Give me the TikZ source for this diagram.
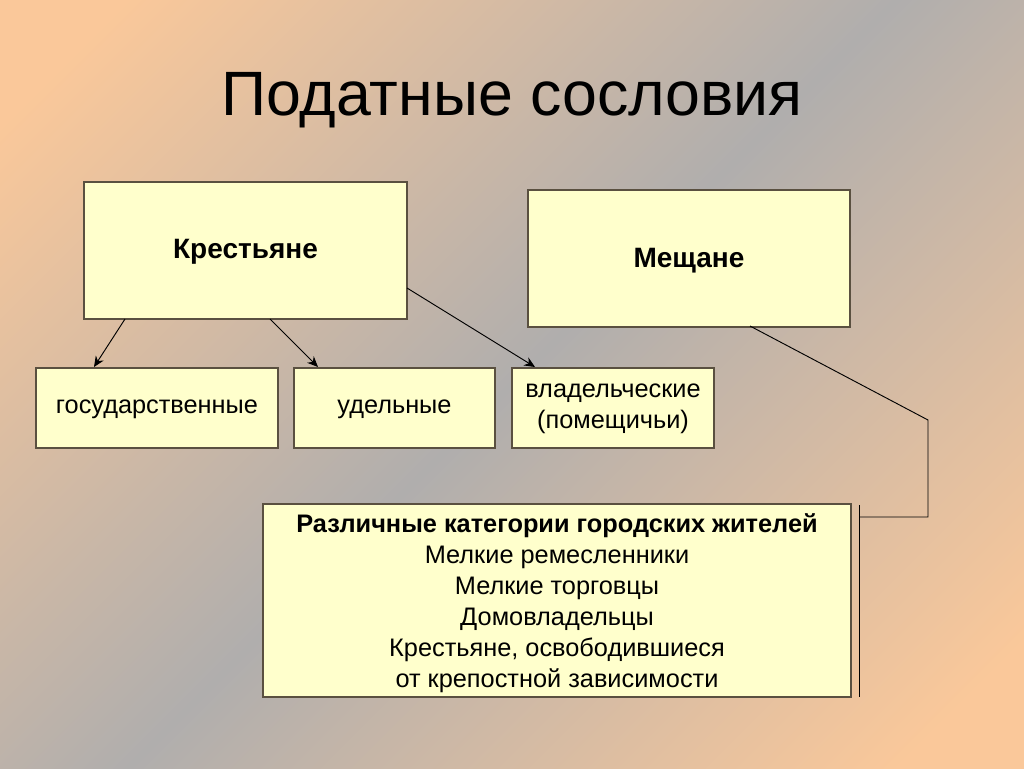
\documentclass[tikz,border=0pt]{standalone}
\usepackage{fontspec}
\setmainfont{Liberation Sans}
\usetikzlibrary{arrows.meta}
\definecolor{peach}{HTML}{FAC89A}
\definecolor{midgray}{HTML}{B0AEAD}
\definecolor{boxfill}{HTML}{FFFFCC}
\definecolor{boxline}{HTML}{5A5040}
\tikzset{
  box/.style={draw=boxline, line width=0.9pt, fill=boxfill, inner sep=0pt},
  lbl/.style={font=\fontsize{19}{23}\selectfont, align=center},
  blbl/.style={font=\fontsize{21}{25}\selectfont\bfseries, align=center},
  conn/.style={draw=black, line width=0.7pt},
  arr/.style={conn, -{Stealth[length=8pt,width=7pt]}}
}
\begin{document}
\begin{tikzpicture}[x=0.75pt,y=-0.75pt]
\useasboundingbox (0,0) rectangle (1024,768);
\shade[top color=peach, bottom color=peach, middle color=midgray, shading angle=45] (-100,-100) rectangle (1124,868);
\node[font=\fontsize{47}{55}\selectfont] (title) at (512,100) {Податные сословия};
% boxes
\draw[box] (84,182) rectangle (407,319);
\node[blbl] (kr) at (245.5,252) {Крестьяне};
\coordinate (krA) at (125,319);
\coordinate (krB) at (270,319);
\coordinate (krC) at (407,288);
\draw[box] (528,190) rectangle (850,327);
\node[blbl] (msh) at (689,261) {Мещане};
\coordinate (mshA) at (750,326);
\draw[box] (36,368) rectangle (278,448);
\node[lbl] (gos) at (157,409) {государственные};
\coordinate (gosT) at (94,367);
\draw[box] (294,368) rectangle (495,448);
\node[lbl] (ud) at (394.5,409) {удельные};
\coordinate (udT) at (318,367);
\draw[box] (512,368) rectangle (714,448);
\node[lbl] (vl) at (613,409) {владельческие\\(помещичьи)};
\coordinate (vlT) at (535,367);
\draw[box] (263,504) rectangle (851,697);
\node[lbl, font=\fontsize{19}{23.3}\selectfont] (gor) at (557,603)
 {\textbf{Различные категории городских жителей}\\Мелкие ремесленники\\Мелкие торговцы\\Домовладельцы\\Крестьяне, освободившиеся\\от крепостной зависимости};
% connectors
\draw[arr] (krA) -- (gosT);
\draw[arr] (krB) -- (udT);
\draw[arr] (krC) -- (vlT);
\coordinate (b1) at (928,420);
\coordinate (b2) at (928,517);
\coordinate (b3) at (859,517);
\coordinate (bt) at (859,505);
\coordinate (bb) at (859,697);
\draw[conn] (mshA) -- (b1) -- (b2) -- (b3);
\draw[conn] (bt) -- (bb);
\end{tikzpicture}
\end{document}
